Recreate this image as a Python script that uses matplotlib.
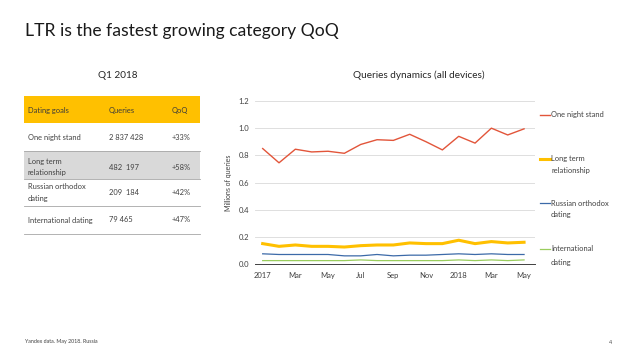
import matplotlib
matplotlib.use("Agg")
import matplotlib.pyplot as plt
from matplotlib.lines import Line2D
from matplotlib.patches import Rectangle

plt.rcParams['font.family'] = ['Lato', 'DejaVu Sans']

# ---------------- data ----------------
months = ["2017", "Feb", "Mar", "Apr", "May", "Jun", "Jul", "Aug", "Sep", "Oct",
          "Nov", "Dec", "2018", "Feb", "Mar", "Apr", "May"]
tick_labels = ["2017", "Mar", "May", "Jul", "Sep", "Nov", "2018", "Mar", "May"]
one_night = [0.85, 0.745, 0.845, 0.825, 0.83, 0.815, 0.88, 0.915, 0.91, 0.955,
             0.90, 0.84, 0.94, 0.89, 1.00, 0.95, 0.995]
long_term = [0.15, 0.13, 0.14, 0.13, 0.13, 0.125, 0.135, 0.14, 0.14, 0.155,
             0.15, 0.15, 0.175, 0.15, 0.165, 0.155, 0.16]
orthodox = [0.075, 0.07, 0.07, 0.07, 0.07, 0.06, 0.06, 0.07, 0.06, 0.065,
            0.065, 0.07, 0.075, 0.07, 0.075, 0.07, 0.07]
international = [0.025, 0.025, 0.025, 0.025, 0.025, 0.025, 0.03, 0.025, 0.025, 0.025,
                 0.025, 0.025, 0.03, 0.025, 0.03, 0.025, 0.03]
series_names = ["One night stand", "Long term\nrelationship",
                "Russian orthodox\ndating", "International\ndating"]
series_colors = ["#E2553A", "#FFC000", "#3C6AA8", "#9ACD5E"]
series_widths = [1.0, 2.2, 0.9, 0.9]

table_header = ["Dating goals", "Queries", "QoQ"]
table_goals = ["One night stand", "Long term\nrelationship", "Russian orthodox\ndating",
               "International dating"]
table_queries = ["2 837 428", "482  197", "209  184", "79 465"]
table_qoq = ["+33%", "+58%", "+42%", "+47%"]

# ---------------- figure ----------------
W, H = 638, 359
fig = plt.figure(figsize=(W / 100, H / 100), dpi=100)
fig.patch.set_facecolor("white")

# overlay axes in pixel coordinates for slide elements
ov = fig.add_axes([0, 0, 1, 1])
ov.set_xlim(0, W)
ov.set_ylim(H, 0)
ov.axis("off")

ov.text(25, 31, "LTR is the fastest growing category QoQ", fontsize=12.6,
        color="#1a1a1a", va="center", ha="left")
ov.text(118, 75, "Q1 2018", fontsize=7.2, color="#262626", ha="center", va="center")
ov.text(419, 75, "Queries dynamics (all devices)", fontsize=7.2, color="#262626",
        ha="center", va="center")
ov.text(25, 342, "Yandex data. May 2018. Russia", fontsize=3.8, color="#404040",
        ha="left", va="center")
ov.text(611, 342, "4", fontsize=4, color="#404040", ha="center", va="center")

# table
tx0, tx1 = 24, 200
ov.add_patch(Rectangle((tx0, 95.5), tx1 - tx0, 27.5, facecolor="#FFC000", edgecolor="none"))
ov.add_patch(Rectangle((tx0, 151), tx1 - tx0, 27.5, facecolor="#D9D9D9", edgecolor="none"))
for yl in [151, 178.5, 206, 234]:
    ov.plot([tx0, tx1], [yl, yl], color="#A6A6A6", lw=0.6)
col_x = [28, 109, 172]
for j in range(3):
    ov.text(col_x[j], 110, table_header[j], fontsize=5.4, color="#3a3a3a", va="center")
row_y = [137.5, 167, 192.5, 220]
for i in range(4):
    ov.text(col_x[0], row_y[i], table_goals[i], fontsize=5.4, color="#404040",
            va="center", linespacing=1.75)
    ov.text(col_x[1], row_y[i], table_queries[i], fontsize=5.4, color="#404040", va="center")
    ov.text(col_x[2], row_y[i], table_qoq[i], fontsize=5.4, color="#404040", va="center")

# line chart
ax = fig.add_axes([255 / W, 1 - 264 / H, 280 / W, 163 / H])
x = list(range(len(months)))
all_series = [one_night, long_term, orthodox, international]
for s, c, lw in zip(all_series, series_colors, series_widths):
    ax.plot(x, s, color=c, lw=lw)
ax.set_xlim(-0.47, 16.67)
ax.set_ylim(0, 1.2)
ax.set_yticks([0.0, 0.2, 0.4, 0.6, 0.8, 1.0, 1.2])
ax.set_yticklabels([f"{v:.1f}" for v in [0.0, 0.2, 0.4, 0.6, 0.8, 1.0, 1.2]])
ax.set_xticks(x[::2])
ax.set_xticklabels(tick_labels)
ax.grid(axis="y", color="#D9D9D9", lw=0.6)
ax.set_axisbelow(True)
for sp in ["top", "right", "left"]:
    ax.spines[sp].set_visible(False)
ax.spines["bottom"].set_color("#404040")
ax.spines["bottom"].set_linewidth(0.7)
ax.tick_params(axis="both", length=0, labelsize=5.5, colors="#404040", pad=4)
ax.tick_params(axis="x", pad=6)
ax.set_ylabel("Millions of queries", fontsize=5, color="#404040", labelpad=5)

# legend (manual)
leg_y = [114.5, 158.5, 203, 248.5]
leg_gap = [12, 12, 12, 13.5]
for name, c, lw, yy, gap in zip(series_names, series_colors, series_widths, leg_y, leg_gap):
    ov.add_line(Line2D([540, 550], [yy, yy], color=c, lw=lw))
    for k, part in enumerate(name.split("\n")):
        ov.text(551, yy + k * gap, part, fontsize=5.4, color="#404040",
                va="center", ha="left")

fig.savefig("out.png", dpi=100)
